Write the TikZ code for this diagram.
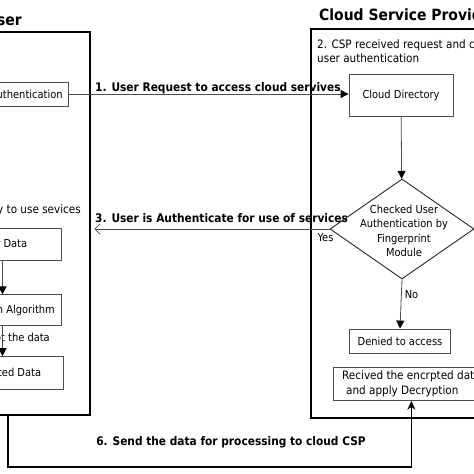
\documentclass[tikz,border=0pt]{standalone}
\usepackage{fontspec}
\setmainfont{DejaVu Sans Condensed}
\usetikzlibrary{positioning,shapes.geometric,arrows.meta}

\tikzset{
  frame/.style={draw, line width=2.6pt},
  procbox/.style={draw=black!70, line width=0.8pt, fill=white, inner sep=0pt},
  decision/.style={diamond, draw=black!85, line width=0.9pt, fill=white,
    minimum width=144pt, minimum height=100pt, inner sep=0pt},
  plain/.style={font=\fontsize{11}{14.5}\selectfont, inner sep=0pt},
  note/.style={font=\fontsize{11.6}{14.5}\selectfont, inner sep=0pt},
  steplabel/.style={font=\bfseries\fontsize{11.8}{13}\selectfont, inner sep=0pt},
  title/.style={font=\bfseries\fontsize{15.5}{18}\selectfont, inner sep=0pt},
  flow/.style={draw=black!70, line width=0.8pt, -{Triangle[length=8pt,width=8pt,black]}},
}

\begin{document}
\begin{tikzpicture}[x=1pt, y=-1pt]
  \useasboundingbox (0,0) rectangle (474,474);
  \clip (0,0) rectangle (474,474);

  % Frames + titles
  \node[frame, minimum width=300pt, minimum height=383pt] (user) at (-60,223.5) {};
  \node[title, anchor=base east] (usertitle) at (22,25) {User};
  \node[frame, minimum width=300pt, minimum height=389pt] (csp) at (461,223.5) {};
  \node[title, anchor=base west] (csptitle) at (319,20) {Cloud Service Provider};
  \node[note, anchor=north west, align=left] (cspnote) at (317,39)
    {2. CSP received request and check\\user authentication};

  % User side
  \node[procbox, plain, anchor=east, minimum height=24pt, inner xsep=6pt] (auth) at (69,94) {User Authentication};
  \node[note, anchor=base east] (ready) at (81,213) {Ready to use sevices};
  \node[procbox, plain, minimum width=118pt, minimum height=32pt] (userdata) at (2.5,244) {User Data};
  \node[procbox, plain, minimum width=118pt, minimum height=31pt, below=34pt of userdata] (encalg) {Encryption Algorithm};
  \node[procbox, plain, minimum width=121pt, minimum height=33pt, below=30pt of encalg] (encdata) {Encrypted Data};
  \node[plain, anchor=east] (encryptlbl) at (50,338) {Encrypt the data};

  % CSP side
  \node[procbox, plain, minimum width=104pt, minimum height=42pt] (clouddir) at (401,95) {Cloud Directory};
  \node[decision] (check) at (402,229) {};
  \node[plain, align=center] (checktext) at (404,231) {Checked User\\Authentication by\\Fingerprint\\Module};
  \node[procbox, plain, minimum width=101pt, minimum height=24pt] (denied) at (400,341) {Denied to access};
  \node[procbox, note, anchor=north west, minimum width=156pt, minimum height=33pt, align=left] (received) at (333,367)
    {Recived the encrpted data\\\hspace*{4pt}and apply Decryption};

  % Step labels
  \node[steplabel, anchor=base west] (reqlbl) at (95,91) {1. User Request to access cloud servives};
  \node[steplabel, anchor=base west] (authlbl) at (95,222) {3. User is Authenticate for use of services};
  \node[plain] (yeslbl) at (325.5,238) {Yes};
  \node[steplabel] (sendlbl) at (231,442) {6. Send the data for processing to cloud CSP};
  \coordinate (sendcorner) at (8,467);

  % Connections
  \draw[flow] (auth.east) -- (auth.east -| clouddir.west);
  \draw[flow] (clouddir) -- (check);
  \draw[flow] (check.south) -- node[plain, right=3pt, pos=0.3] (nolbl) {No} (denied.north);
  \draw[draw=black!70, line width=0.8pt, -{Straight Barb[length=5pt,width=10pt]}, shorten >=3pt]
    (check.west) -- (check.west -| user.east);
  \draw[flow] (userdata) -- (encalg);
  \draw[flow] (encalg) -- (encdata);
  \draw[line width=1.1pt, -{Stealth[length=9pt,width=8pt]}]
    (user.south -| sendcorner) -- (sendcorner) -| (received.south);
\end{tikzpicture}
\end{document}
